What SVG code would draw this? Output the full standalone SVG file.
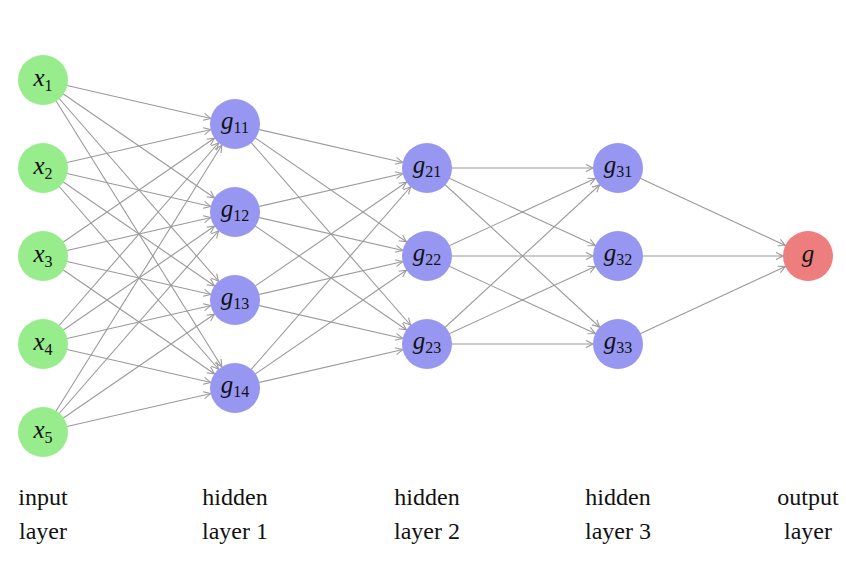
<svg xmlns="http://www.w3.org/2000/svg" width="846" height="565" viewBox="0 0 846 565">
<style>
.e{stroke:#9a9a9a;stroke-width:1.1;fill:none;marker-end:url(#a)}
.in{fill:#97ec8c}.hd{fill:#9797f2}.out{fill:#ee7e7e}
.m{font-family:"Liberation Serif",serif;font-style:italic;font-size:25px;fill:#111;text-anchor:middle}
.s{font-style:normal;font-size:16px}
.l{font-family:"Liberation Serif",serif;font-size:24px;fill:#111;text-anchor:middle}
</style>
<defs>
<marker id="a" markerUnits="userSpaceOnUse" markerWidth="10" markerHeight="10" refX="25" refY="0" orient="auto" overflow="visible">
<path d="M-7,-3.5 L0,0 L-7,3.5" fill="none" stroke="#9a9a9a" stroke-width="1.1"/>
</marker>
</defs>
<rect width="846" height="565" fill="#fff"/>
<g id="connectors">
<path class="e" d="M43,80L235,124"/><path class="e" d="M43,80L235,212"/><path class="e" d="M43,80L235,300"/><path class="e" d="M43,80L235,388"/>
<path class="e" d="M43,168L235,124"/><path class="e" d="M43,168L235,212"/><path class="e" d="M43,168L235,300"/><path class="e" d="M43,168L235,388"/>
<path class="e" d="M43,256L235,124"/><path class="e" d="M43,256L235,212"/><path class="e" d="M43,256L235,300"/><path class="e" d="M43,256L235,388"/>
<path class="e" d="M43,344L235,124"/><path class="e" d="M43,344L235,212"/><path class="e" d="M43,344L235,300"/><path class="e" d="M43,344L235,388"/>
<path class="e" d="M43,432L235,124"/><path class="e" d="M43,432L235,212"/><path class="e" d="M43,432L235,300"/><path class="e" d="M43,432L235,388"/>
<path class="e" d="M235,124L427,168"/><path class="e" d="M235,124L427,256"/><path class="e" d="M235,124L427,344"/>
<path class="e" d="M235,212L427,168"/><path class="e" d="M235,212L427,256"/><path class="e" d="M235,212L427,344"/>
<path class="e" d="M235,300L427,168"/><path class="e" d="M235,300L427,256"/><path class="e" d="M235,300L427,344"/>
<path class="e" d="M235,388L427,168"/><path class="e" d="M235,388L427,256"/><path class="e" d="M235,388L427,344"/>
<path class="e" d="M427,168L618,168"/><path class="e" d="M427,168L618,256"/><path class="e" d="M427,168L618,344"/>
<path class="e" d="M427,256L618,168"/><path class="e" d="M427,256L618,256"/><path class="e" d="M427,256L618,344"/>
<path class="e" d="M427,344L618,168"/><path class="e" d="M427,344L618,256"/><path class="e" d="M427,344L618,344"/>
<path class="e" d="M618,168L808,256"/><path class="e" d="M618,256L808,256"/><path class="e" d="M618,344L808,256"/>
</g>
<g id="x1"><circle class="in" cx="43" cy="80" r="25"/><text class="m" x="43" y="86">x<tspan class="s" dy="5">1</tspan></text></g>
<g id="x2"><circle class="in" cx="43" cy="168" r="25"/><text class="m" x="43" y="174">x<tspan class="s" dy="5">2</tspan></text></g>
<g id="x3"><circle class="in" cx="43" cy="256" r="25"/><text class="m" x="43" y="262">x<tspan class="s" dy="5">3</tspan></text></g>
<g id="x4"><circle class="in" cx="43" cy="344" r="25"/><text class="m" x="43" y="350">x<tspan class="s" dy="5">4</tspan></text></g>
<g id="x5"><circle class="in" cx="43" cy="432" r="25"/><text class="m" x="43" y="438">x<tspan class="s" dy="5">5</tspan></text></g>
<g id="g11"><circle class="hd" cx="235" cy="124" r="25"/><text class="m" x="235" y="129">g<tspan class="s" dy="4">11</tspan></text></g>
<g id="g12"><circle class="hd" cx="235" cy="212" r="25"/><text class="m" x="235" y="217">g<tspan class="s" dy="4">12</tspan></text></g>
<g id="g13"><circle class="hd" cx="235" cy="300" r="25"/><text class="m" x="235" y="305">g<tspan class="s" dy="4">13</tspan></text></g>
<g id="g14"><circle class="hd" cx="235" cy="388" r="25"/><text class="m" x="235" y="393">g<tspan class="s" dy="4">14</tspan></text></g>
<g id="g21"><circle class="hd" cx="427" cy="168" r="25"/><text class="m" x="427" y="173">g<tspan class="s" dy="4">21</tspan></text></g>
<g id="g22"><circle class="hd" cx="427" cy="256" r="25"/><text class="m" x="427" y="261">g<tspan class="s" dy="4">22</tspan></text></g>
<g id="g23"><circle class="hd" cx="427" cy="344" r="25"/><text class="m" x="427" y="349">g<tspan class="s" dy="4">23</tspan></text></g>
<g id="g31"><circle class="hd" cx="618" cy="168" r="25"/><text class="m" x="618" y="173">g<tspan class="s" dy="4">31</tspan></text></g>
<g id="g32"><circle class="hd" cx="618" cy="256" r="25"/><text class="m" x="618" y="261">g<tspan class="s" dy="4">32</tspan></text></g>
<g id="g33"><circle class="hd" cx="618" cy="344" r="25"/><text class="m" x="618" y="349">g<tspan class="s" dy="4">33</tspan></text></g>
<g id="g"><circle class="out" cx="808" cy="256" r="25"/><text class="m" x="808" y="262">g</text></g>
<g id="labels">
<text class="l" x="43" y="505">input</text><text class="l" x="43" y="539">layer</text>
<text class="l" x="235" y="505">hidden</text><text class="l" x="235" y="539">layer 1</text>
<text class="l" x="427" y="505">hidden</text><text class="l" x="427" y="539">layer 2</text>
<text class="l" x="618" y="505">hidden</text><text class="l" x="618" y="539">layer 3</text>
<text class="l" x="808" y="505">output</text><text class="l" x="808" y="539">layer</text>
</g>
</svg>
